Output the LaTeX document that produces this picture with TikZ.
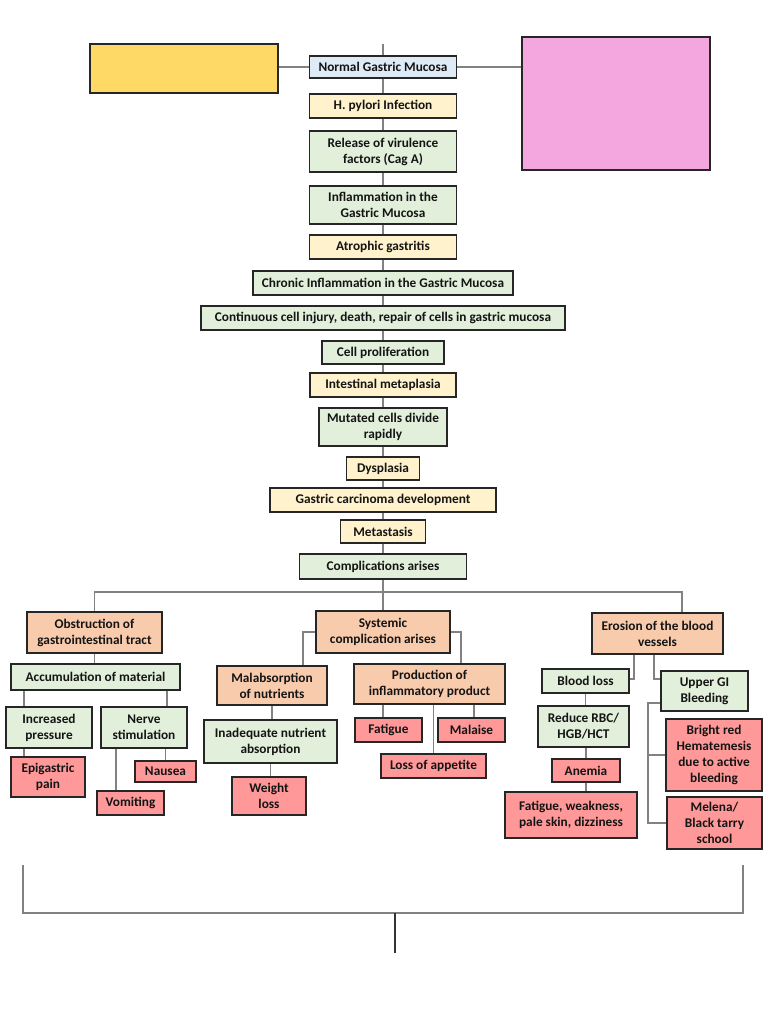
\documentclass[tikz,border=0pt]{standalone}
\usepackage{fontspec}
\setmainfont{Carlito}
\usetikzlibrary{positioning}
\definecolor{cblue}{RGB}{222,235,247}
\definecolor{ccream}{RGB}{255,242,204}
\definecolor{cgreen}{RGB}{226,239,218}
\definecolor{corange}{RGB}{248,203,173}
\definecolor{cred}{RGB}{255,153,153}
\definecolor{cgold}{RGB}{255,217,102}
\definecolor{cpink}{RGB}{244,166,222}

\begin{document}
\begin{tikzpicture}[x=1pt,y=1pt,yscale=-1,xscale=1,
  box/.style={draw={rgb,255:red,38;green,38;blue,38},line width=1.1pt,align=center,inner sep=1pt,
    font=\fontsize{13.3}{16}\selectfont\bfseries,text={rgb,255:red,20;green,20;blue,20}},
  sz/.style 2 args={minimum width=#1pt,minimum height=#2pt},
  blu/.style={box,fill=cblue},
  crm/.style={box,fill=ccream},
  grn/.style={box,fill=cgreen},
  org/.style={box,fill=corange},
  rd/.style={box,fill=cred},
  link/.style={draw={rgb,255:red,130;green,130;blue,130},line width=1.2pt}]
\useasboundingbox (0,0) rectangle (768,1024);

%Shape: Rectangle [side boxes]
\node[box,fill=cgold,sz={188}{49}] (goldbox) at (184,68.5) {};
\node[box,fill=cpink,sz={188}{133}] (pinkbox) at (616,103.5) {};

% Main chain
\coordinate (topend) at (383,44);
\node[blu,sz={147}{22}] (normal) at (383,67) {Normal Gastric Mucosa};
\node[crm,sz={147}{24}] (hpylori) at (383,106) {H. pylori Infection};
\node[grn,sz={147}{41}] (release) at (383,151.5) {Release of virulence\\factors (Cag A)};
\node[grn,sz={147}{38}] (inflam) at (383,205) {Inflammation in the\\Gastric Mucosa};
\node[crm,sz={147}{24}] (atrophic) at (383,247) {Atrophic gastritis};
\node[grn,sz={260}{24}] (chronic) at (383,283) {Chronic Inflammation in the Gastric Mucosa};
\node[grn,sz={364}{24}] (injury) at (383,318) {Continuous cell injury, death, repair of cells in gastric mucosa};
\node[grn,sz={122}{23}] (prolif) at (383,352.5) {Cell proliferation};
\node[crm,sz={146}{24}] (metapl) at (383,385) {Intestinal metaplasia};
\node[grn,sz={128}{38}] (mutated) at (383,427) {Mutated cells divide\\rapidly};
\node[crm,sz={73}{23}] (dyspl) at (383,468.5) {Dysplasia};
\node[crm,sz={226}{24}] (carcin) at (383,500) {Gastric carcinoma development};
\node[crm,sz={85}{23}] (metast) at (383,531.5) {Metastasis};
\node[grn,sz={167}{25}] (compl) at (383,566.5) {Complications arises};

\draw[link] (topend) -- (normal.north);
\draw[link] (goldbox.east |- normal) -- (normal.west);
\draw[link] (normal.east) -- (normal.east -| pinkbox.west);
\foreach \a/\b in {normal/hpylori,hpylori/release,release/inflam,inflam/atrophic,atrophic/chronic,
  chronic/injury,injury/prolif,prolif/metapl,metapl/mutated,mutated/dyspl,dyspl/carcin,carcin/metast,metast/compl}
  \draw[link] (\a.south) -- (\b.north);

% Obstruction branch
\node[org,sz={135}{41}] (obstr) at (94.5,632.5) {Obstruction of\\gastrointestinal tract};
\node[grn,sz={169}{26}] (accum) at (95.5,677) {Accumulation of material};
\node[grn,sz={86}{41}] (incpres) at (49,727.5) {Increased\\pressure};
\node[grn,sz={86}{41}] (nerve) at (144,727.5) {Nerve\\stimulation};
\node[rd,sz={74}{40}] (epig) at (48,777) {Epigastric\\pain};
\node[rd,sz={61}{21}] (nausea) at (165.5,771.5) {Nausea};
\node[rd,sz={67}{24}] (vomit) at (130.5,803) {Vomiting};

% Systemic branch
\node[org,sz={134}{42}] (system) at (383,632) {Systemic\\complication arises};
\node[org,sz={110}{39}] (malab) at (272,685.5) {Malabsorption\\of nutrients};
\node[org,sz={151}{40}] (produc) at (429.5,684) {Production of\\inflammatory product};
\node[grn,sz={133}{43}] (inadeq) at (270.5,741.5) {Inadequate nutrient\\absorption};
\node[rd,sz={74}{38}] (weight) at (269,796) {Weight\\loss};
\node[rd,sz={67}{24}] (fatig) at (388.5,730) {Fatigue};
\node[rd,sz={67}{24}] (malaise) at (471.5,730) {Malaise};
\node[rd,sz={105}{24}] (appet) at (433.5,766) {Loss of appetite};

% Erosion branch
\node[org,sz={131}{41}] (erosion) at (657.5,633.5) {Erosion of the blood\\vessels};
\node[grn,sz={87}{24}] (bloodl) at (585.5,681) {Blood loss};
\node[grn,sz={87}{40}] (uppergi) at (704.5,691) {Upper GI\\Bleeding};
\node[grn,sz={91}{41}] (reduce) at (583.5,726.5) {Reduce RBC/\\HGB/HCT};
\node[rd,sz={68}{23}] (anemia) at (586,770.5) {Anemia};
\node[rd,sz={132}{46}] (fatwk) at (571,815) {Fatigue, weakness,\\pale skin, dizziness};
\node[rd,sz={96}{72}] (bright) at (714,755) {Bright red\\Hematemesis\\due to active\\bleeding};
\node[rd,sz={95}{52}] (melena) at (714.5,823) {Melena/\\Black tarry\\school};

% Branch lines
\coordinate (bar) at (383,592);
\coordinate (barr) at (682,592);
\draw[link] (compl.south) -- (bar) -- (system.north);
\draw[link] (obstr.north) -- (obstr.north |- bar) -- (barr) -- (erosion.north -| barr);

\draw[link] (obstr.south) -- (obstr.south |- accum.north);
\draw[link] (accum.south -| 24,0) -- (incpres.north -| 24,0);
\draw[link] (accum.south -| 167,0) -- (nerve.north -| 167,0);
\draw[link] (incpres.south -| 24,0) -- (epig.north -| 24,0);
\draw[link] (nerve.south -| 116,0) -- (vomit.north -| 116,0);
\draw[link] (nausea.north) -- (nausea.north |- nerve.south);

\draw[link] (system.west) -| (malab.north -| 303,0);
\draw[link] (system.east) -| (produc.north -| 461,0);
\draw[link] (malab.south) -- (malab.south |- inadeq.north);
\draw[link] (inadeq.south) -- (inadeq.south |- weight.north);
\draw[link] (produc.south -| 383,0) -- (fatig.north -| 383,0);
\draw[link] (produc.south -| 474,0) -- (malaise.north -| 474,0);
\draw[link] (appet.north) -- (appet.north |- produc.south);

\draw[link] (erosion.south -| 634,0) |- (bloodl.east |- 0,679);
\draw[link] (erosion.south -| 654,0) |- (uppergi.west |- 0,679);
\draw[link] (bloodl.south) -- (bloodl.south |- reduce.north);
\draw[link] (anemia.north) -- (anemia.north |- reduce.south);
\draw[link] (anemia.south) -- (anemia.south |- fatwk.north);
\coordinate (ugi) at (648,703);
\draw[link] (uppergi.west |- ugi) -- (ugi) |- (melena.west);
\draw[link] (ugi |- bright.west) -- (bright.west);

% Bottom bracket
\coordinate (bkl) at (23,865);
\coordinate (bkr) at (743,865);
\coordinate (bkm) at (395,913);
\coordinate (bkend) at (395,953);
\draw[link] (bkl) -- (bkl |- bkm) -- (bkr |- bkm) -- (bkr);
\draw[link,draw=black!80] (bkm) -- (bkend);

\end{tikzpicture}
\end{document}
